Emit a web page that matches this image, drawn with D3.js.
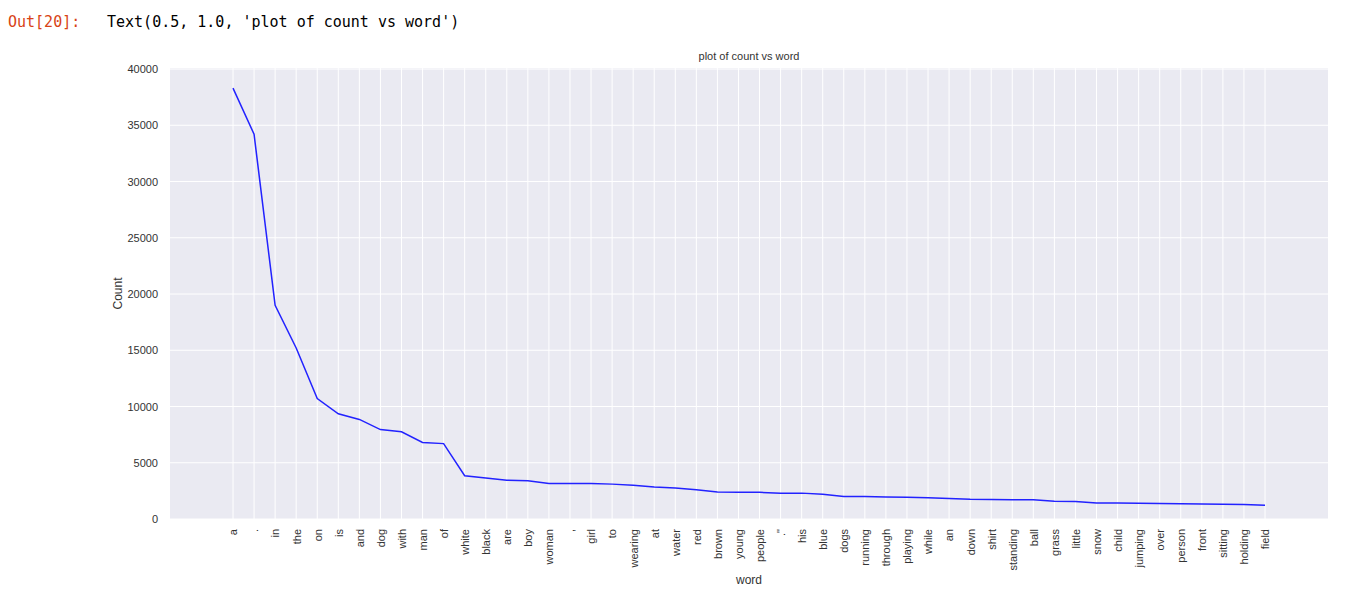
<!DOCTYPE html><html><head><meta charset="utf-8"><script src="https://cdn.jsdelivr.net/npm/d3@7"></script>
<style>body{margin:0;background:#fff}</style></head><body><svg id="c" width="1345" height="605"></svg><script>
const words=["a",".","in","the","on","is","and","dog","with","man","of","white","black","are","boy","woman",",","girl","to","wearing","at","water","red","brown","young","people",".\"","his","blue","dogs","running","through","playing","while","an","down","shirt","standing","ball","grass","little","snow","child","jumping","over","person","front","sitting","holding","field"];
const counts=[38300,34200,19000,15200,10700,9350,8850,7950,7750,6800,6700,3850,3650,3450,3400,3150,3150,3150,3100,3000,2850,2750,2600,2400,2380,2370,2300,2300,2200,2000,2000,1950,1930,1880,1820,1750,1740,1720,1710,1570,1560,1420,1420,1410,1380,1360,1340,1320,1280,1220];
const yTicks=[0,5000,10000,15000,20000,25000,30000,35000,40000];
const svg=d3.select("#c");
const L=170,R=1328,T=68,B=519;
svg.append("text").attr("x",8).attr("y",27).attr("font-family","DejaVu Sans Mono").attr("font-size",15).attr("fill","#d84315").text("Out[20]:");
svg.append("text").attr("x",107).attr("y",27).attr("font-family","DejaVu Sans Mono").attr("font-size",15).attr("fill","#000").text("Text(0.5, 1.0, 'plot of count vs word')");
const x=d3.scalePoint().domain(words).range([233,1265]);
const y=d3.scaleLinear().domain([0,40000]).range([B,69]);
svg.append("rect").attr("x",L).attr("y",T).attr("width",R-L).attr("height",B-T).attr("fill","#eaeaf2");
const g=svg.append("g");
g.selectAll(".vg").data(words).join("line").attr("x1",d=>x(d)).attr("x2",d=>x(d)).attr("y1",T).attr("y2",B).attr("stroke","#fff").attr("stroke-width",1);
g.selectAll(".hg").data(yTicks).join("line").attr("x1",L).attr("x2",R).attr("y1",d=>y(d)).attr("y2",d=>y(d)).attr("stroke","#fff").attr("stroke-width",1);
const ya=svg.append("g").attr("transform",`translate(${L},0)`).call(d3.axisLeft(y).tickValues(yTicks).tickSize(0).tickPadding(12).tickFormat(d3.format("d")));
ya.select(".domain").remove();
ya.selectAll("text").attr("font-family","Liberation Sans, Arial").attr("font-size",11).attr("fill","#333");
const xa=svg.append("g").attr("transform",`translate(0,${B})`).call(d3.axisBottom(x).tickSize(0).tickPadding(0));
xa.select(".domain").remove();
xa.selectAll("text").attr("font-family","Liberation Sans, Arial").attr("font-size",11).attr("fill","#333")
 .attr("transform","rotate(-90)").attr("text-anchor","end").attr("x",-10).attr("y",0).attr("dy","0.35em");
svg.append("path").datum(words.map((w,i)=>[w,counts[i]])).attr("fill","none").attr("stroke","#2222ff").attr("stroke-width",1.5)
 .attr("d",d3.line().x(d=>x(d[0])).y(d=>y(d[1])));
svg.append("text").attr("x",(L+R)/2).attr("y",60).attr("text-anchor","middle").attr("font-family","Liberation Sans, Arial").attr("font-size",11).attr("fill","#333").text("plot of count vs word");
svg.append("text").attr("x",(L+R)/2).attr("y",584).attr("text-anchor","middle").attr("font-family","Liberation Sans, Arial").attr("font-size",12).attr("fill","#333").text("word");
svg.append("text").attr("transform",`translate(122,${(T+B)/2}) rotate(-90)`).attr("text-anchor","middle").attr("font-family","Liberation Sans, Arial").attr("font-size",12).attr("fill","#333").text("Count");
</script></body></html>
